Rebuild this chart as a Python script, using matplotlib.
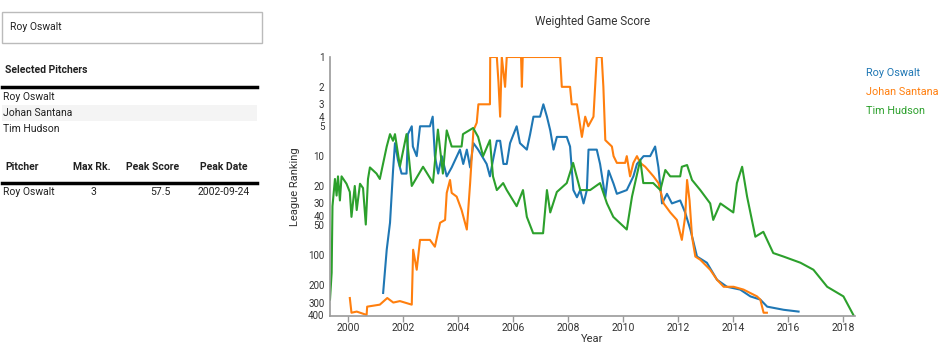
import numpy as np
import matplotlib.pyplot as plt
from matplotlib.patches import Rectangle
from matplotlib.lines import Line2D

plt.rcParams['font.family'] = ['Roboto', 'DejaVu Sans']

# series: (year, league ranking)
oswalt_year = [2001.28, 2001.41, 2001.53, 2001.64, 2001.71, 2001.82, 2001.95, 2002.13, 2002.18,
               2002.32, 2002.36, 2002.50, 2002.62, 2002.98, 2003.08, 2003.16, 2003.28, 2003.41,
               2003.59, 2003.77, 2004.07, 2004.19, 2004.32, 2004.44, 2004.56, 2004.73, 2005.04,
               2005.16, 2005.27, 2005.41, 2005.53, 2005.65, 2005.77, 2005.89, 2006.13, 2006.25,
               2006.50, 2006.62, 2006.74, 2006.98, 2007.10, 2007.23, 2007.35, 2007.47, 2007.59,
               2007.95, 2008.07, 2008.19, 2008.32, 2008.44, 2008.56, 2008.68, 2008.74, 2009.04,
               2009.16, 2009.35, 2009.47, 2009.65, 2009.77, 2010.13, 2010.37, 2010.50, 2010.74,
               2010.98, 2011.16, 2011.28, 2011.41, 2011.59, 2011.77, 2012.07, 2012.25, 2012.44,
               2012.56, 2012.68, 2013.04, 2013.41, 2013.77, 2014.25, 2014.62, 2014.98, 2015.23,
               2015.83, 2016.37]
oswalt_rank = [240, 88, 47, 14, 7.4, 11, 15, 15, 6, 5, 8, 10, 5, 5, 4, 10, 15, 10, 16, 13, 8.6,
               12, 8.6, 13, 7.4, 8.6, 12, 16, 11, 7, 7, 12, 12, 7.4, 5, 7.4, 8.6, 6, 4, 4, 3, 4,
               5.5, 8.6, 6.4, 6.4, 8, 22, 26, 22, 30, 22, 8.6, 8.6, 12, 26, 14, 19, 24, 22, 16,
               12, 10, 10, 8, 13, 30, 24, 30, 28, 37, 55, 75, 103, 119, 177, 208, 222, 260, 280,
               330, 355, 370]

santana_year = [2000.07, 2000.13, 2000.32, 2000.68, 2000.70, 2001.16, 2001.43, 2001.65, 2001.89,
                2002.32, 2002.37, 2002.50, 2002.62, 2002.98, 2003.16, 2003.35, 2003.53, 2003.59,
                2003.71, 2003.77, 2003.95, 2004.13, 2004.32, 2004.44, 2004.56, 2004.68, 2004.74,
                2005.16, 2005.17, 2005.41, 2005.47, 2005.53, 2005.59, 2005.71, 2005.77, 2006.29,
                2006.32, 2006.35, 2007.71, 2007.77, 2008.07, 2008.13, 2008.32, 2008.44, 2008.50,
                2008.62, 2008.73, 2008.92, 2009.04, 2009.22, 2009.28, 2009.35, 2009.59, 2009.65,
                2009.77, 2010.07, 2010.13, 2010.25, 2010.37, 2010.50, 2010.62, 2010.80, 2011.10,
                2011.28, 2011.47, 2011.71, 2011.95, 2012.13, 2012.25, 2012.32, 2012.41, 2012.50,
                2012.62, 2012.80, 2013.16, 2013.41, 2013.65, 2014.01, 2014.37, 2014.86, 2014.98,
                2015.10, 2015.22]
santana_rank = [270, 380, 370, 400, 330, 315, 270, 300, 290, 315, 88, 140, 70, 70, 82, 47, 44,
                23.5, 17.4, 23.5, 25.6, 35, 55, 18.7, 5.5, 4.6, 3, 3, 1, 1, 1.8, 4, 1, 2, 1, 1,
                2, 1, 1, 2, 2, 3, 3, 5, 6.4, 4, 5, 4, 1, 1, 2, 6.9, 8, 10, 11.7, 11.7, 10, 16,
                11.7, 10, 11.7, 12.8, 16, 18.7, 30, 37, 44, 70, 41, 17.4, 28, 65, 103, 111, 140,
                177, 208, 208, 222, 260, 280, 380, 380]

hudson_year = [1999.35, 1999.41, 1999.44, 1999.53, 1999.59, 1999.64, 1999.71, 1999.77, 1999.95,
               2000.07, 2000.13, 2000.25, 2000.32, 2000.44, 2000.55, 2000.65, 2000.73, 2000.80,
               2001.04, 2001.16, 2001.41, 2001.53, 2001.64, 2001.71, 2001.89, 2002.13, 2002.32,
               2002.73, 2003.09, 2003.27, 2003.45, 2003.59, 2003.77, 2004.13, 2004.18, 2004.55,
               2004.73, 2004.91, 2005.16, 2005.27, 2005.41, 2005.64, 2005.77, 2006.13, 2006.36,
               2006.50, 2006.73, 2007.09, 2007.23, 2007.35, 2007.59, 2007.95, 2008.18, 2008.44,
               2008.80, 2009.16, 2009.41, 2009.64, 2010.13, 2010.32, 2010.62, 2010.73, 2011.09,
               2011.35, 2011.53, 2011.71, 2012.07, 2012.13, 2012.32, 2012.50, 2012.80, 2013.16,
               2013.27, 2013.53, 2014.00, 2014.13, 2014.32, 2014.50, 2014.80, 2015.09, 2015.45,
               2015.82, 2016.44, 2016.91, 2017.41, 2018.00, 2018.36]
hudson_rank = [280, 150, 32, 17, 25, 16, 28, 16, 19, 23, 41, 20, 35, 19, 21, 49, 17, 13, 15, 17,
               8, 6, 7, 6, 12.7, 6, 20, 12.8, 18.6, 5.4, 15, 5.5, 8, 8, 6, 5.2, 6.4, 10, 6.9, 16,
               22, 18.7, 22, 32, 22, 41, 60, 60, 22, 37, 23, 18.7, 11.7, 22, 22, 18.7, 30, 41,
               55, 25.6, 10.9, 18.7, 18.7, 22, 13.8, 16, 16, 12.8, 12.3, 17.4, 22, 30, 44, 30,
               37, 18.7, 12.8, 25.6, 65, 58, 95, 103, 119, 140, 208, 260, 400]

pitchers = ['Roy Oswalt', 'Johan Santana', 'Tim Hudson']
colors = ['#1f77b4', '#ff7f0e', '#2ca02c']
year_ticks = list(range(2000, 2019, 2))
rank_ticks = [1, 2, 3, 4, 5, 10, 20, 30, 40, 50, 100, 200, 300, 400]

table_header = ['Pitcher', 'Max Rk.', 'Peak Score', 'Peak Date']
table_row = ['Roy Oswalt', '3', '57.5', '2002-09-24']

W, H = 943, 358
fig = plt.figure(figsize=(W / 100, H / 100), dpi=100)


def px(x, y):
    return x / W, 1 - y / H


ax = fig.add_axes([330 / W, 1 - 316 / H, 525 / W, 259 / H])
series = [(oswalt_year, oswalt_rank), (santana_year, santana_rank), (hudson_year, hudson_rank)]
for (xs, ys), c in zip(series, colors):
    ax.plot(xs, ys, color=c, lw=1.5)

ax.set_yscale('log')
ax.set_ylim(410, 1)
ax.set_xlim(1999.35, 2018.42)
ax.set_yticks(rank_ticks)
ax.set_yticklabels([str(t) for t in rank_ticks])
ax.yaxis.set_minor_locator(plt.NullLocator())
ax.tick_params(axis='y', length=0, labelsize=7, colors='#333333', pad=4)
ax.set_xticks(year_ticks)
ax.set_xticklabels([str(t) for t in year_ticks])
ax.tick_params(axis='x', length=4, width=1, color='#999999', labelsize=7.5, labelcolor='#333333', pad=1)
for s in ['top', 'right']:
    ax.spines[s].set_visible(False)
for s in ['left', 'bottom']:
    ax.spines[s].set_color('#999999')
    ax.spines[s].set_linewidth(1.2)
ax.set_xlabel('Year', fontsize=8, color='#333333', labelpad=1)
ax.set_ylabel('League Ranking', fontsize=8, color='#333333', labelpad=6)
ax.set_title('Weighted Game Score', fontsize=8.5, color='#333333', pad=23)

for i, (name, c) in enumerate(zip(pitchers, colors)):
    fig.text(*px(866, 73 + i * 19), name, color=c, fontsize=7.8, va='center')

# left panel
fig.patches.append(Rectangle(px(2, 43), 260 / W, 31 / H, transform=fig.transFigure,
                             fill=False, edgecolor='#bbbbbb', lw=1))
fig.text(*px(10, 27), 'Roy Oswalt', fontsize=7.5, va='center', color='#222222')
fig.text(*px(5, 70), 'Selected Pitchers', fontsize=7.5, va='center', weight='bold', color='#222222')
fig.lines.append(Line2D([2 / W, 257 / W], [1 - 87 / H] * 2, transform=fig.transFigure, color='black', lw=2.5))
fig.patches.append(Rectangle(px(2, 121), 255 / W, 16 / H, transform=fig.transFigure,
                             facecolor='#f4f4f4', edgecolor='none'))
for i, name in enumerate(pitchers):
    fig.text(*px(3, 97 + i * 16), name, fontsize=7.5, va='center', color='#222222')

col_x = [5, 92, 153, 224]
col_ha = ['left', 'center', 'center', 'center']
for h, x, ha in zip(table_header, col_x, col_ha):
    fig.text(*px(x, 167), h, fontsize=7.5, va='center', ha=ha, weight='bold', color='#222222')
fig.lines.append(Line2D([2 / W, 257 / W], [1 - 183 / H] * 2, transform=fig.transFigure, color='black', lw=2.5))
row_x = [3, 93, 160, 224]
for v, x, ha in zip(table_row, row_x, col_ha):
    fig.text(*px(x, 192), v, fontsize=7.5, va='center', ha=ha, color='#222222')

fig.savefig('out.png', dpi=100)
